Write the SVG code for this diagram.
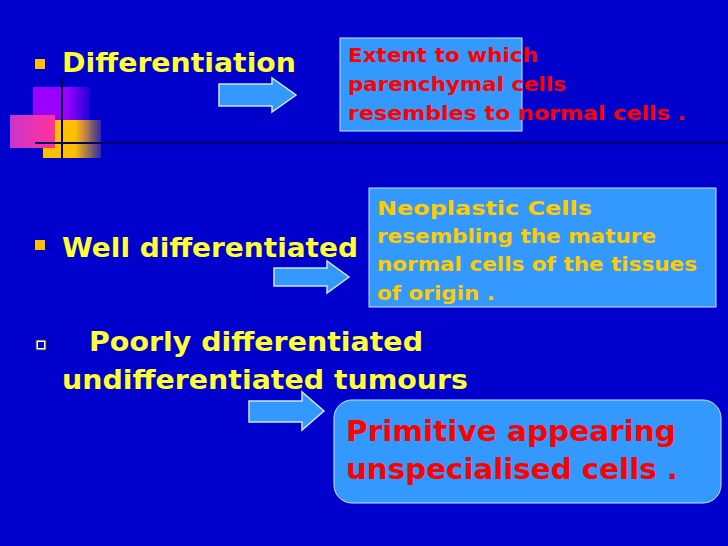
<svg xmlns="http://www.w3.org/2000/svg" width="728" height="546" viewBox="0 0 728 546" xml:space="preserve">
<defs>
<style>
.t{font-family:"DejaVu Sans",Verdana,sans-serif;font-weight:bold}
.h{fill:#FFFF33;font-size:27px}
.arr{fill:#3399FF;stroke:#CCE6FF;stroke-width:1.5}
</style>
<linearGradient id="go" x1="0" x2="1"><stop offset="0" stop-color="#FFC000"/><stop offset="0.55" stop-color="#FFC000"/><stop offset="1" stop-color="#FFC000" stop-opacity="0.2"/></linearGradient>
<linearGradient id="gp" x1="0" x2="1"><stop offset="0" stop-color="#9900FF"/><stop offset="0.6" stop-color="#9900FF"/><stop offset="1" stop-color="#9900FF" stop-opacity="0.2"/></linearGradient>
<linearGradient id="gk" x1="0" x2="1"><stop offset="0" stop-color="#CC33CC"/><stop offset="1" stop-color="#FF3399"/></linearGradient>
</defs>
<rect width="728" height="546" fill="#0000CC"/>
<g id="decor">
<rect x="33" y="87" width="57" height="55" fill="url(#gp)"/>
<rect x="43" y="120" width="58" height="38" fill="url(#go)"/>
<rect x="10" y="115" width="45" height="33" fill="url(#gk)"/>
<line x1="62" y1="78" x2="62" y2="160" stroke="#000033" stroke-width="2"/>
<line x1="35" y1="143" x2="728" y2="143" stroke="#000066" stroke-width="2"/>
</g>
<g id="bullets">
<rect x="35" y="59" width="10" height="10" fill="#FFC000"/>
<rect x="35" y="240" width="10" height="10" fill="#FFC000"/>
<rect x="36" y="340" width="10" height="10" fill="#fff" stroke="#333" stroke-width="1"/>
<rect x="38" y="342" width="6" height="6" fill="#0000CC"/>
</g>
<g id="labels">
<text class="t h" x="62" y="72" textLength="234" lengthAdjust="spacingAndGlyphs">Differentiation</text>
<text class="t h" x="62" y="257" textLength="296" lengthAdjust="spacingAndGlyphs">Well differentiated</text>
<text class="t h" x="89" y="351" textLength="334" lengthAdjust="spacingAndGlyphs">Poorly differentiated</text>
<text class="t h" x="62" y="389" textLength="406" lengthAdjust="spacingAndGlyphs">undifferentiated tumours</text>
</g>
<g id="connectors">
<polygon class="arr" points="219,84 272,84 272,78 296,95 272,112 272,106 219,106"/>
<polygon class="arr" points="274,268 327,268 327,261 349,277 327,293 327,286 274,286"/>
<polygon class="arr" points="249,401 302,401 302,392 324,411 302,430 302,422 249,422"/>
</g>
<g id="box1">
<rect x="340" y="38" width="182" height="93" fill="#3399FF" stroke="#CCE6FF"/>
<text class="t" fill="#FF0000" font-size="19" x="348" y="62" textLength="190" lengthAdjust="spacingAndGlyphs">Extent to which</text>
<text class="t" fill="#FF0000" font-size="19" x="348" y="91" textLength="218" lengthAdjust="spacingAndGlyphs">parenchymal cells</text>
<text class="t" fill="#FF0000" font-size="19" x="348" y="120" textLength="338" lengthAdjust="spacingAndGlyphs">resembles  to normal cells  .</text>
</g>
<g id="box2">
<rect x="369" y="188" width="347" height="119" fill="#3399FF" stroke="#CCE6FF"/>
<text class="t" fill="#FFCC00" font-size="19" x="377" y="215" textLength="215" lengthAdjust="spacingAndGlyphs">Neoplastic    Cells</text>
<text class="t" fill="#FFCC00" font-size="19" x="377" y="243" textLength="279" lengthAdjust="spacingAndGlyphs">resembling the mature</text>
<text class="t" fill="#FFCC00" font-size="19" x="377" y="271" textLength="320" lengthAdjust="spacingAndGlyphs">normal cells of the tissues</text>
<text class="t" fill="#FFCC00" font-size="19" x="377" y="300" textLength="118" lengthAdjust="spacingAndGlyphs">of origin .</text>
</g>
<g id="box3">
<rect x="334" y="400" width="387" height="103" rx="18" fill="#3399FF" stroke="#CCE6FF"/>
<text class="t" fill="#FF0000" font-size="29" x="346" y="441" textLength="330" lengthAdjust="spacingAndGlyphs">Primitive  appearing</text>
<text class="t" fill="#FF0000" font-size="29" x="346" y="479" textLength="332" lengthAdjust="spacingAndGlyphs">unspecialised  cells .</text>
</g>
</svg>
